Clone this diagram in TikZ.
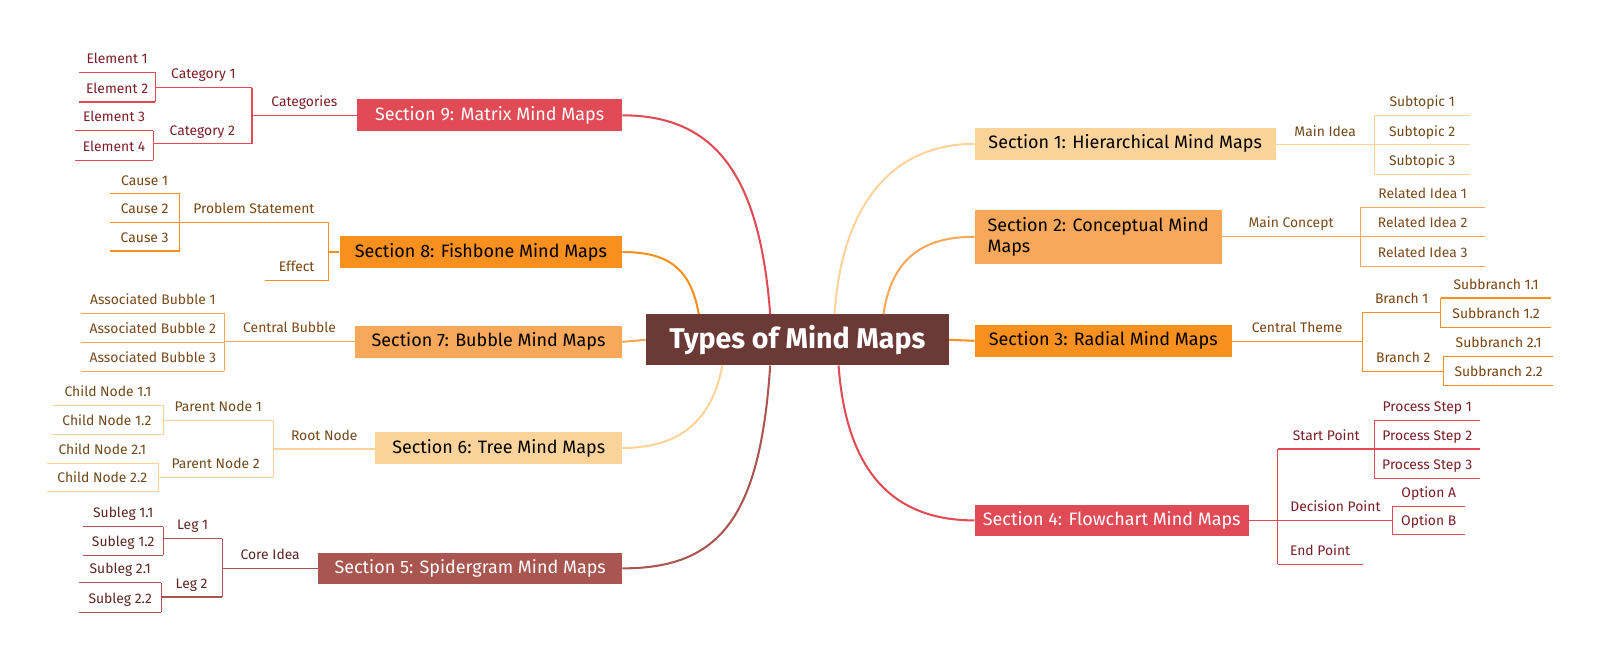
\documentclass[tikz,border=0pt]{standalone}
\usepackage{fontspec}
\setmainfont{Fira Sans}
\usetikzlibrary{calc}
\definecolor{rootc}{HTML}{6B3A37}
\definecolor{redc}{HTML}{E04B55}
\definecolor{orc}{HTML}{F7901E}
\definecolor{lorc}{HTML}{F7A85A}
\definecolor{pchc}{HTML}{FCD49B}
\definecolor{brc}{HTML}{A8564F}
\definecolor{redt}{HTML}{7A1E26}
\definecolor{ort}{HTML}{7A4410}
\definecolor{lort}{HTML}{7A4A1C}
\definecolor{pcht}{HTML}{6E4A1A}
\definecolor{brt}{HTML}{5C2622}
\tikzset{
  sect/.style={minimum height=31pt, inner xsep=8pt, inner ysep=0pt, font=\fontsize{17.6}{20}\selectfont},
  leaf/.style={font=\fontsize{13.6}{15}\selectfont, inner xsep=0pt, inner ysep=5.5pt, text height=9.5pt, text depth=3pt},
  lr/.style={leaf, anchor=south west},
  ll/.style={leaf, anchor=south east},
  ul/.style={append after command={(\tikzlastnode.south west) edge[draw=#1, line width=1.1pt] (\tikzlastnode.south east)}},
  gred/.style={text=redt, ul=redc},
  gor/.style={text=ort, ul=orc},
  glor/.style={text=lort, ul=lorc},
  gpch/.style={text=pcht, ul=pchc},
  gbr/.style={text=brt, ul=brc},
  curve/.style={line width=2pt},
  brk/.style={line width=1.1pt},
}
\begin{document}
\begin{tikzpicture}[x=1pt,y=-1pt]
\useasboundingbox (0,0) rectangle (1600,659);
\fill[white] (0,0) rectangle (1600,659);
\begin{scope}[transform canvas={scale=1.0204}]
% root
\node[fill=rootc, text=white, minimum width=297pt, minimum height=50pt, font=\fontsize{28}{32}\selectfont\bfseries] (root) at (781.5,333) {Types of Mind Maps};

% right sections
\node[sect, fill=pchc, anchor=west, minimum width=295pt] (s1) at (955,141) {Section 1: Hierarchical Mind Maps};
\node[sect, fill=lorc, anchor=west, minimum width=242pt, minimum height=53pt, align=left, font=\fontsize{17.6}{20.5}\selectfont] (s2) at (955,232) {Section 2: Conceptual Mind\\Maps};
\node[sect, fill=orc, anchor=west, minimum width=252pt] (s3) at (955,334) {Section 3: Radial Mind Maps};
\node[sect, fill=redc, text=white, anchor=west, minimum width=267pt] (s4) at (955,510) {Section 4: Flowchart Mind Maps};

% left sections
\node[sect, fill=redc, text=white, anchor=east, minimum width=260pt] (s9) at (610,113) {Section 9: Matrix Mind Maps};
\node[sect, fill=orc, anchor=east, minimum width=277pt] (s8) at (610,247) {Section 8: Fishbone Mind Maps};
\node[sect, fill=lorc, anchor=east, minimum width=262pt] (s7) at (610,335) {Section 7: Bubble Mind Maps};
\node[sect, fill=pchc, anchor=east, minimum width=242pt] (s6) at (610,439) {Section 6: Tree Mind Maps};
\node[sect, fill=brc, text=white, anchor=east, minimum width=298pt] (s5) at (610,557) {Section 5: Spidergram Mind Maps};

% main curves
\draw[curve, redc] ([xshift=122pt]root.north west) .. controls +(-10,-130) and +(95,0) .. (s9.east);
\draw[curve, orc] ([xshift=52pt]root.north west) .. controls +(-8,-45) and +(45,0) .. (s8.east);
\draw[curve, lorc] (root.west) -- (s7.east);
\draw[curve, pchc] ([xshift=75pt]root.south west) .. controls +(-10,55) and +(55,0) .. (s6.east);
\draw[curve, brc] ([xshift=122pt]root.south west) .. controls +(-10,150) and +(95,0) .. (s5.east);
\draw[curve, pchc] ([xshift=185pt]root.north west) .. controls +(8,-115) and +(-75,0) .. (s1.west);
\draw[curve, lorc] ([xshift=233pt]root.north west) .. controls +(8,-55) and +(-50,0) .. (s2.west);
\draw[curve, orc] (root.east) -- (s3.west);
\draw[curve, redc] ([xshift=189pt]root.south west) .. controls +(8,110) and +(-75,0) .. (s4.west);

% ---- S1
\node[lr, gpch, minimum width=97pt] (mi) at (1250,142) {Main Idea};
\node[lr, gpch, minimum width=93pt] (st1) at (1347,113) {Subtopic 1};
\node[lr, gpch, minimum width=93pt] (st2) at (1347,142) {Subtopic 2};
\node[lr, gpch, minimum width=93pt] (st3) at (1347,171) {Subtopic 3};
\draw[brk, pchc] (st1.south west) -- (st3.south west);

% ---- S2
\node[lr, glor, minimum width=136pt] (mc) at (1197,232) {Main Concept};
\node[lr, glor, minimum width=122pt] (ri1) at (1333,203) {Related Idea 1};
\node[lr, glor, minimum width=122pt] (ri2) at (1333,232) {Related Idea 2};
\node[lr, glor, minimum width=122pt] (ri3) at (1333,261) {Related Idea 3};
\draw[brk, lorc] (ri1.south west) -- (ri3.south west);

% ---- S3
\node[lr, gor, minimum width=128pt] (ct) at (1207,335) {Central Theme};
\node[lr, gor, minimum width=77pt] (br1) at (1335,306) {Branch 1};
\node[lr, gor, minimum width=80pt] (br2) at (1335,364) {Branch 2};
\node[lr, gor, minimum width=108pt] (sb11) at (1412,292) {Subbranch 1.1};
\node[lr, gor, minimum width=108pt] (sb12) at (1412,321) {Subbranch 1.2};
\node[lr, gor, minimum width=107pt] (sb21) at (1415,349) {Subbranch 2.1};
\node[lr, gor, minimum width=107pt] (sb22) at (1415,378) {Subbranch 2.2};
\draw[brk, orc] (br1.south west) -- (br2.south west);
\draw[brk, orc] (sb11.south west) -- (sb12.south west);
\draw[brk, orc] (sb21.south west) -- (sb22.south west);

% ---- S4
\node[lr, gred, minimum width=95pt] (sp) at (1252,440) {Start Point};
\node[lr, gred, minimum width=113pt] (dp) at (1252,510) {Decision Point};
\node[lr, gred, minimum width=83pt] (ep) at (1252,553) {End Point};
\node[lr, gred, minimum width=103pt] (ps1) at (1347,412) {Process Step 1};
\node[lr, gred, minimum width=103pt] (ps2) at (1347,440) {Process Step 2};
\node[lr, gred, minimum width=103pt] (ps3) at (1347,469) {Process Step 3};
\node[lr, gred, minimum width=70pt] (oa) at (1365,496) {Option A};
\node[lr, gred, minimum width=70pt] (ob) at (1365,524) {Option B};
\draw[brk, redc] (sp.south west) -- (ep.south west);
\draw[brk, redc] (ps1.south west) -- (ps3.south west);
\draw[brk, redc] (oa.south west) -- (ob.south west);
\draw[brk, redc] (s4.east) -- (s4.east -| sp.south west);

% ---- S9
\node[ll, gred, minimum width=103pt] (cats) at (350,113) {Categories};
\node[ll, gred, minimum width=95pt] (cat1) at (247,86) {Category 1};
\node[ll, gred, minimum width=97pt] (cat2) at (247,141) {Category 2};
\node[ll, gred, minimum width=74pt] (el1) at (152,71) {Element 1};
\node[ll, gred, minimum width=74pt] (el2) at (152,100) {Element 2};
\node[ll, gred, minimum width=76pt] (el3) at (150,128) {Element 3};
\node[ll, gred, minimum width=76pt] (el4) at (150,157) {Element 4};
\draw[brk, redc] (cat1.south east) -- (cat2.south east);
\draw[brk, redc] (el1.south east) -- (el2.south east);
\draw[brk, redc] (el3.south east) -- (el4.south east);

% ---- S8
\node[ll, gor, minimum width=146pt] (pst) at (322,218) {Problem Statement};
\node[ll, gor, minimum width=62pt] (eff) at (322,275) {Effect};
\node[ll, gor, minimum width=68pt] (ca1) at (176,190) {Cause 1};
\node[ll, gor, minimum width=68pt] (ca2) at (176,218) {Cause 2};
\node[ll, gor, minimum width=68pt] (ca3) at (176,246) {Cause 3};
\draw[brk, orc] (pst.south east) -- (eff.south east);
\draw[brk, orc] (ca1.south east) -- (ca3.south east);
\draw[brk, orc] (s8.west) -- (s8.west -| pst.south east);

% ---- S7
\node[ll, glor, minimum width=128pt] (cb) at (348,335) {Central Bubble};
\node[ll, glor, minimum width=140pt] (ab1) at (220,307) {Associated Bubble 1};
\node[ll, glor, minimum width=140pt] (ab2) at (220,336) {Associated Bubble 2};
\node[ll, glor, minimum width=140pt] (ab3) at (220,364) {Associated Bubble 3};
\draw[brk, lorc] (ab1.south east) -- (ab3.south east);

% ---- S6
\node[ll, gpch, minimum width=100pt] (rn) at (368,440) {Root Node};
\node[ll, gpch, minimum width=108pt] (pn1) at (268,412) {Parent Node 1};
\node[ll, gpch, minimum width=113pt] (pn2) at (268,468) {Parent Node 2};
\node[ll, gpch, minimum width=108pt] (cn11) at (160,397) {Child Node 1.1};
\node[ll, gpch, minimum width=110pt] (cn12) at (160,426) {Child Node 1.2};
\node[ll, gpch, minimum width=109pt] (cn21) at (155,454) {Child Node 2.1};
\node[ll, gpch, minimum width=109pt] (cn22) at (155,482) {Child Node 2.2};
\draw[brk, pchc] (pn1.south east) -- (pn2.south east);
\draw[brk, pchc] (cn11.south east) -- (cn12.south east);
\draw[brk, pchc] (cn21.south east) -- (cn22.south east);

% ---- S5
\node[ll, gbr, minimum width=94pt] (ci) at (312,557) {Core Idea};
\node[ll, gbr, minimum width=58pt] (lg1) at (218,528) {Leg 1};
\node[ll, gbr, minimum width=60pt] (lg2) at (218,585) {Leg 2};
\node[ll, gbr, minimum width=78pt] (sl11) at (160,516) {Subleg 1.1};
\node[ll, gbr, minimum width=78pt] (sl12) at (160,544) {Subleg 1.2};
\node[ll, gbr, minimum width=80pt] (sl21) at (158,571) {Subleg 2.1};
\node[ll, gbr, minimum width=80pt] (sl22) at (158,600) {Subleg 2.2};
\draw[brk, brc] (lg1.south east) -- (lg2.south east);
\draw[brk, brc] (sl11.south east) -- (sl12.south east);
\draw[brk, brc] (sl21.south east) -- (sl22.south east);
\end{scope}
\end{tikzpicture}
\end{document}
